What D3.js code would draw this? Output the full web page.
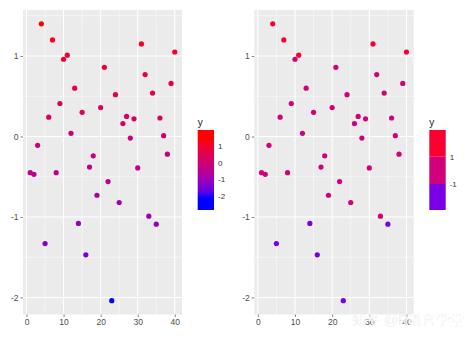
<!DOCTYPE html>
<html>
<head>
<meta charset="utf-8">
<script src="https://cdn.jsdelivr.net/npm/d3@7"></script>
<style>
  html, body { margin: 0; padding: 0; background: #fff; }
  svg { display: block; }
  text { font-family: "Liberation Sans", Arial, sans-serif; }
</style>
</head>
<body>
<svg id="chart" width="474" height="338"></svg>
<script>
// ---- data ----
const xValues = [1,2,3,4,5,6,7,8,9,10,11,12,13,14,15,16,17,18,19,20,
                 21,22,23,24,25,26,27,28,29,30,31,32,33,34,35,36,37,38,39,40];
const yValues = [-0.45,-0.47,-0.11,1.40,-1.33,0.24,1.20,-0.45,0.41,0.96,
                 1.01,0.04,0.60,-1.08,0.30,-1.47,-0.38,-0.24,-0.73,0.36,
                 0.86,-0.56,-2.04,0.52,-0.82,0.16,0.25,-0.02,0.22,-0.39,
                 1.15,0.77,-0.99,0.54,-1.09,0.23,0.01,-0.22,0.66,1.05];
const xTicks = [0,10,20,30,40];
const yTicks = [-2,-1,0,1];
const xMinor = [5,15,25,35];
const yMinor = [-1.5,-0.5,0.5,1.5];
const gradientLegendTicks = [1,0,-1,-2];
const binBreaks = [-1,1];
const binColors = ["#7a00e6","#d2007a","#fa0030"];
const legendTitle = "y";
const watermark = "知乎 @R语言学堂";

const points = xValues.map((x,i)=>({x, y:yValues[i]}));
const svg = d3.select("#chart");
const fmt = d => String(d);

const yMin = d3.min(yValues), yMax = d3.max(yValues);
const yPad = (yMax - yMin) * 0.05;
const xPad = (d3.max(xValues) - d3.min(xValues)) * 0.05;

const gradColor = d3.scaleSequential(d3.interpolateLab("blue","red")).domain([yMin,yMax]);
const binColor = d3.scaleThreshold().domain(binBreaks).range(binColors);

function panel(left, right, top, bottom, colorFn) {
  const x = d3.scaleLinear().domain([d3.min(xValues)-xPad, d3.max(xValues)+xPad]).range([left,right]);
  const y = d3.scaleLinear().domain([yMin-yPad, yMax+yPad]).range([bottom,top]);
  const g = svg.append("g");
  g.append("rect").attr("x",left).attr("y",top).attr("width",right-left).attr("height",bottom-top).attr("fill","#ebebeb");
  g.selectAll(".vmin").data(xMinor).enter().append("line")
    .attr("x1",d=>x(d)).attr("x2",d=>x(d)).attr("y1",top).attr("y2",bottom)
    .attr("stroke","#fff").attr("stroke-width",0.5);
  g.selectAll(".hmin").data(yMinor.filter(v=>y(v)>=top && y(v)<=bottom)).enter().append("line")
    .attr("y1",d=>y(d)).attr("y2",d=>y(d)).attr("x1",left).attr("x2",right)
    .attr("stroke","#fff").attr("stroke-width",0.5);
  g.selectAll(".vmaj").data(xTicks).enter().append("line")
    .attr("x1",d=>x(d)).attr("x2",d=>x(d)).attr("y1",top).attr("y2",bottom)
    .attr("stroke","#fff").attr("stroke-width",1);
  g.selectAll(".hmaj").data(yTicks).enter().append("line")
    .attr("y1",d=>y(d)).attr("y2",d=>y(d)).attr("x1",left).attr("x2",right)
    .attr("stroke","#fff").attr("stroke-width",1);
  const xAxis = d3.axisBottom(x).tickValues(xTicks).tickSize(2.5).tickPadding(2).tickFormat(fmt);
  const xa = g.append("g").attr("transform",`translate(0,${bottom})`).call(xAxis);
  const yAxis = d3.axisLeft(y).tickValues(yTicks).tickSize(2.5).tickPadding(2).tickFormat(fmt);
  const ya = g.append("g").attr("transform",`translate(${left},0)`).call(yAxis);
  [xa,ya].forEach(a=>{
    a.select(".domain").remove();
    a.selectAll(".tick line").attr("stroke","#333").attr("stroke-width",0.6);
    a.selectAll(".tick text").attr("fill","#4d4d4d").attr("font-size","8.5px")
      .attr("font-family","Liberation Sans, Arial, sans-serif");
  });
  g.selectAll(".pt").data(points).enter().append("circle")
    .attr("cx",d=>x(d.x)).attr("cy",d=>y(d.y)).attr("r",2.6)
    .attr("fill",d=>colorFn(d.y));
}

panel(23, 182, 10, 314.5, v=>gradColor(v));
panel(254.3, 413.7, 10, 314.5, v=>binColor(v));

// ---- gradient legend (left) ----
(function(){
  const bx = 197.7, bw = 16.3, bt = 130, bb = 210;
  const ls = d3.scaleLinear().domain([-2,1]).range([196,146]);
  const defs = svg.append("defs");
  const lg = defs.append("linearGradient").attr("id","lg1").attr("x1",0).attr("x2",0).attr("y1",0).attr("y2",1);
  const n = 40;
  for (let i=0;i<=n;i++){
    const p = bt + (bb-bt)*i/n;
    const v = Math.max(yMin, Math.min(yMax, ls.invert(p)));
    lg.append("stop").attr("offset",(i/n)).attr("stop-color",gradColor(v));
  }
  svg.append("text").attr("x",bx).attr("y",126).attr("font-size","10px").attr("fill","#1a1a1a").text(legendTitle);
  svg.append("rect").attr("x",bx).attr("y",bt).attr("width",bw).attr("height",bb-bt).attr("fill","url(#lg1)");
  svg.selectAll(".lt1").data(gradientLegendTicks).enter().append("text")
    .attr("x",bx+bw+4).attr("y",d=>ls(d)+3).attr("font-size","8px").attr("fill","#333")
    .text(fmt);
})();

// ---- binned legend (right) ----
(function(){
  const bx = 429.3, bw = 16.4, bt = 130, bb = 210;
  const edges = [bb, 184, 156.7, bt];
  svg.append("text").attr("x",bx).attr("y",126).attr("font-size","10px").attr("fill","#1a1a1a").text(legendTitle);
  binColors.forEach((c,i)=>{
    svg.append("rect").attr("x",bx).attr("y",edges[i+1]).attr("width",bw).attr("height",edges[i]-edges[i+1]).attr("fill",c);
  });
  svg.selectAll(".lt2").data(binBreaks).enter().append("text")
    .attr("x",bx+bw+4).attr("y",(d,i)=>edges[i+1]+3).attr("font-size","8px").attr("fill","#333")
    .text(fmt);
})();

// watermark (present in the reference image)
svg.append("text").attr("x",352).attr("y",325)
  .attr("font-family","Noto Sans CJK SC, sans-serif").attr("font-size","14px")
  .attr("fill","#cfcfcf").attr("stroke","#ffffff").attr("stroke-width",0.6).attr("opacity",0.9)
  .text(watermark);
</script>
</body>
</html>
